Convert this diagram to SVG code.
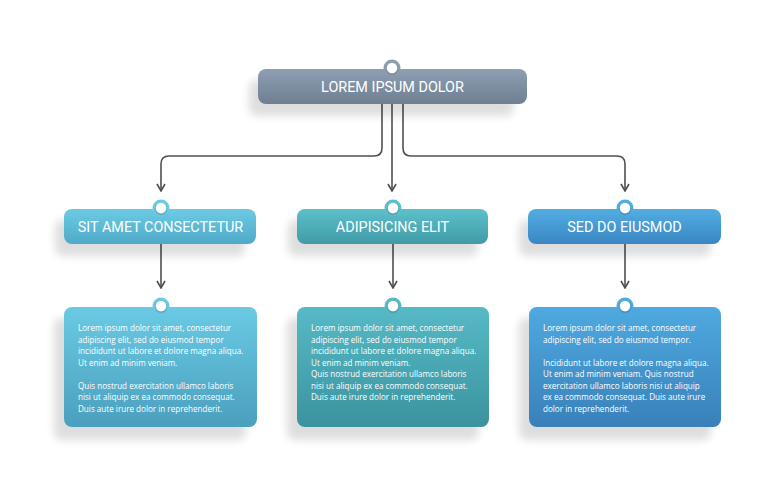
<svg xmlns="http://www.w3.org/2000/svg" width="770" height="500" viewBox="0 0 770 500">
<defs>
<style>
.title{font-family:Roboto,"Liberation Sans",sans-serif;font-weight:400;font-size:14.4px;fill:#fff;text-anchor:middle}
.body{font-family:"Open Sans","Liberation Sans",sans-serif;font-size:8.1px;fill:#fff}
.conn{fill:none;stroke:#505050;stroke-width:1.6}
.shadow{fill:#000;opacity:0.13;filter:url(#blur)}
.knob{fill:#fff;stroke:none;filter:url(#ks)}
</style>
<filter id="blur" x="-20%" y="-50%" width="140%" height="200%"><feGaussianBlur stdDeviation="4"/></filter>
<filter id="ks" x="-50%" y="-50%" width="200%" height="200%"><feDropShadow dx="0" dy="1" stdDeviation="0.8" flood-color="#000" flood-opacity="0.35"/></filter>
<linearGradient id="gTop" x1="0" y1="0" x2="0" y2="1"><stop offset="0" stop-color="#8e9fb3"/><stop offset="1" stop-color="#6f7f92"/></linearGradient>
<linearGradient id="gL" x1="0" y1="0" x2="0" y2="1"><stop offset="0" stop-color="#6ccbe4"/><stop offset="1" stop-color="#4fa9c8"/></linearGradient>
<linearGradient id="gM" x1="0" y1="0" x2="0" y2="1"><stop offset="0" stop-color="#5cc0cb"/><stop offset="1" stop-color="#3f9ba7"/></linearGradient>
<linearGradient id="gR" x1="0" y1="0" x2="0" y2="1"><stop offset="0" stop-color="#52ade2"/><stop offset="1" stop-color="#3a87c3"/></linearGradient>
<linearGradient id="bL" x1="0" y1="0" x2="0" y2="1"><stop offset="0" stop-color="#6acae4"/><stop offset="1" stop-color="#4b9fbe"/></linearGradient>
<linearGradient id="bM" x1="0" y1="0" x2="0" y2="1"><stop offset="0" stop-color="#56bac6"/><stop offset="1" stop-color="#3b939f"/></linearGradient>
<linearGradient id="bR" x1="0" y1="0" x2="0" y2="1"><stop offset="0" stop-color="#4eaae0"/><stop offset="1" stop-color="#3a80b9"/></linearGradient>
<marker id="arr" viewBox="0 0 10 10" refX="9" refY="5" markerWidth="10" markerHeight="10" markerUnits="userSpaceOnUse" orient="auto">
<path d="M2,1 L9,5 L2,9" fill="none" stroke="#505050" stroke-width="1.6"/>
</marker>
</defs>
<rect width="770" height="500" fill="#fff"/>

<g id="connectors">
<path class="conn" d="M382 104 V148 Q382 156 374 156 H169 Q161 156 161 164 V191" marker-end="url(#arr)"/>
<path class="conn" d="M392 104 V191" marker-end="url(#arr)"/>
<path class="conn" d="M403 104 V148 Q403 156 411 156 H617 Q625 156 625 164 V191" marker-end="url(#arr)"/>
<path class="conn" d="M161 244 V288" marker-end="url(#arr)"/>
<path class="conn" d="M393 244 V288" marker-end="url(#arr)"/>
<path class="conn" d="M625 244 V288" marker-end="url(#arr)"/>
</g>

<g id="node-top">
<rect class="shadow" x="249" y="80" width="265" height="36" rx="8"/>
<rect x="258" y="69" width="269" height="35" rx="8" fill="url(#gTop)"/>
<circle cx="392" cy="68" r="8.5" fill="#8e9fb3"/>
<circle class="knob" cx="392" cy="68" r="5.2"/>
<text class="title" x="392.5" y="92">LOREM IPSUM DOLOR</text>
</g>

<g id="node-l1">
<rect class="shadow" x="55" y="220" width="190" height="36" rx="8"/>
<rect x="64" y="209" width="192" height="35" rx="8" fill="url(#gL)"/>
<circle cx="161" cy="208" r="8.5" fill="#6ccbe4"/>
<circle class="knob" cx="161" cy="208" r="5.2"/>
<text class="title" x="160.5" y="232">SIT AMET CONSECTETUR</text>
</g>

<g id="node-m1">
<rect class="shadow" x="288" y="220" width="190" height="36" rx="8"/>
<rect x="297" y="209" width="191" height="35" rx="8" fill="url(#gM)"/>
<circle cx="393" cy="208" r="8.5" fill="#5cc0cb"/>
<circle class="knob" cx="393" cy="208" r="5.2"/>
<text class="title" x="392.5" y="232">ADIPISICING ELIT</text>
</g>

<g id="node-r1">
<rect class="shadow" x="519" y="220" width="192" height="36" rx="8"/>
<rect x="528" y="209" width="193" height="35" rx="8" fill="url(#gR)"/>
<circle cx="625" cy="208" r="8.5" fill="#52ade2"/>
<circle class="knob" cx="625" cy="208" r="5.2"/>
<text class="title" x="624.5" y="232">SED DO EIUSMOD</text>
</g>

<g id="node-l2">
<rect class="shadow" x="54" y="318" width="192" height="122" rx="8"/>
<rect x="64" y="307" width="193" height="120" rx="8" fill="url(#bL)"/>
<circle cx="161" cy="306" r="8.5" fill="#6acae4"/>
<circle class="knob" cx="161" cy="306" r="5.2"/>
<text class="body" x="78">
<tspan x="78" y="331">Lorem ipsum dolor sit amet, consectetur</tspan>
<tspan x="78" y="342.5">adipiscing elit, sed do eiusmod tempor</tspan>
<tspan x="78" y="354">incididunt ut labore et dolore magna aliqua.</tspan>
<tspan x="78" y="365.5">Ut enim ad minim veniam.</tspan>
<tspan x="78" y="388.5">Quis nostrud exercitation ullamco laboris</tspan>
<tspan x="78" y="400">nisi ut aliquip ex ea commodo consequat.</tspan>
<tspan x="78" y="411.5">Duis aute irure dolor in reprehenderit.</tspan>
</text>
</g>

<g id="node-m2">
<rect class="shadow" x="287" y="318" width="192" height="122" rx="8"/>
<rect x="297" y="307" width="192" height="120" rx="8" fill="url(#bM)"/>
<circle cx="393" cy="306" r="8.5" fill="#56bac6"/>
<circle class="knob" cx="393" cy="306" r="5.2"/>
<text class="body" x="311">
<tspan x="311" y="331">Lorem ipsum dolor sit amet, consectetur</tspan>
<tspan x="311" y="342.5">adipiscing elit, sed do eiusmod tempor</tspan>
<tspan x="311" y="354">incididunt ut labore et dolore magna aliqua.</tspan>
<tspan x="311" y="365.5">Ut enim ad minim veniam.</tspan>
<tspan x="311" y="377">Quis nostrud exercitation ullamco laboris</tspan>
<tspan x="311" y="388.5">nisi ut aliquip ex ea commodo consequat.</tspan>
<tspan x="311" y="400">Duis aute irure dolor in reprehenderit.</tspan>
</text>
</g>

<g id="node-r2">
<rect class="shadow" x="519" y="318" width="192" height="122" rx="8"/>
<rect x="529" y="307" width="192" height="120" rx="8" fill="url(#bR)"/>
<circle cx="625" cy="306" r="8.5" fill="#4eaae0"/>
<circle class="knob" cx="625" cy="306" r="5.2"/>
<text class="body" x="543">
<tspan x="543" y="331">Lorem ipsum dolor sit amet, consectetur</tspan>
<tspan x="543" y="342.5">adipiscing elit, sed do eiusmod tempor.</tspan>
<tspan x="543" y="365.5">Incididunt ut labore et dolore magna aliqua.</tspan>
<tspan x="543" y="377">Ut enim ad minim veniam. Quis nostrud</tspan>
<tspan x="543" y="388.5">exercitation ullamco laboris nisi ut aliquip</tspan>
<tspan x="543" y="400">ex ea commodo consequat. Duis aute irure</tspan>
<tspan x="543" y="411.5">dolor in reprehenderit.</tspan>
</text>
</g>
</svg>
